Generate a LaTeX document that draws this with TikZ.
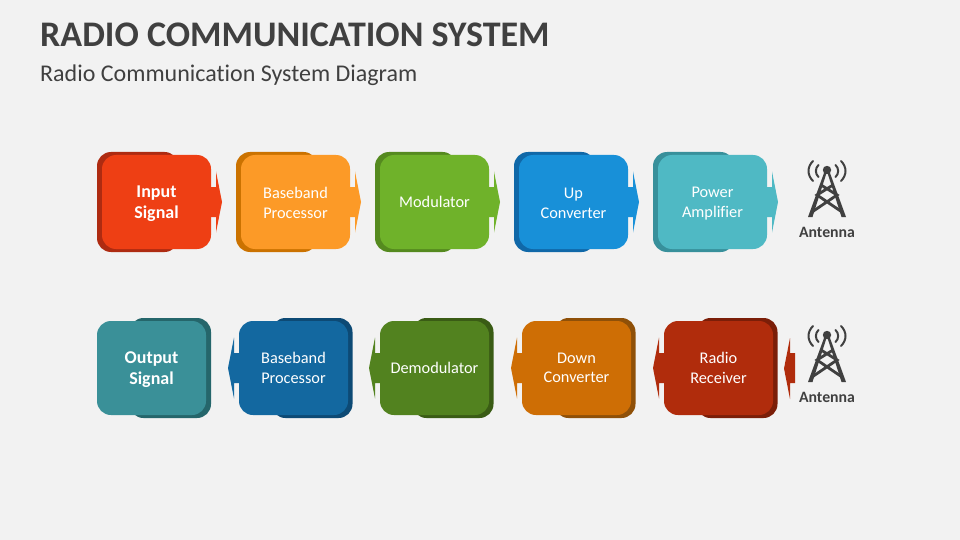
\documentclass[tikz,border=0pt]{standalone}
\usepackage{fontspec}
\setmainfont[Ligatures=CommonOff]{Carlito}
\definecolor{bgc}{HTML}{F2F2F2}
\definecolor{ink}{HTML}{404040}
\definecolor{redA}{HTML}{EE3F14}\definecolor{redB}{HTML}{AE2B11}
\definecolor{orgA}{HTML}{FC9A27}\definecolor{orgB}{HTML}{CB7200}
\definecolor{grnA}{HTML}{6FB22A}\definecolor{grnB}{HTML}{558A1F}
\definecolor{bluA}{HTML}{1890D8}\definecolor{bluB}{HTML}{1068A8}
\definecolor{teaA}{HTML}{4FB9C4}\definecolor{teaB}{HTML}{38909B}
\definecolor{outA}{HTML}{3A9098}\definecolor{outB}{HTML}{25666B}
\definecolor{bbpA}{HTML}{1368A0}\definecolor{bbpB}{HTML}{0D4A75}
\definecolor{demA}{HTML}{52821F}\definecolor{demB}{HTML}{3A5C15}
\definecolor{dwnA}{HTML}{CE6E05}\definecolor{dwnB}{HTML}{8F5008}
\definecolor{rcvA}{HTML}{B02C0C}\definecolor{rcvB}{HTML}{7B1E08}
\newcommand{\lowerplain}{\rule{0pt}{13.5pt}}
\newcommand{\lowerstrong}{\rule{0pt}{14.5pt}}
\tikzset{
  x=1pt,y=-1pt,
  blockbox/.style={rounded corners=14pt,minimum width=109pt,minimum height=94pt,inner sep=0pt,align=center,text=white,font=\fontsize{16.3}{19.5}\selectfont},
  strong/.style={font=\fontsize{18}{21}\selectfont\bfseries},
  plain/.style={},
  antlabel/.style={font=\fontsize{15.8}{17}\selectfont\bfseries,text=ink,inner sep=0pt},
  antbrace/.style={draw=ink,line width=2.8pt},
  antwave/.style={draw=ink,line width=2pt,line cap=round},
}
% name, cx, cy, light, dark, text, style
\newcommand{\blockright}[7]{%
  \fill[#5,rounded corners=14pt] (#2-59.5,#3-50) rectangle (#2+22,#3+50);
  \fill[#4] ([shift={(-2,-15)}]#2+54.5,#3) -- ++(7,0) -- ++(0,-15.5) -- ++(6,30.5) -- ++(-6,30.5) -- ++(0,-15.5) -- ++(-7,0) -- cycle;
  \node[blockbox,fill=#4,#7] (#1) at (#2,#3) {#6};
}
\newcommand{\blockleft}[7]{%
  \fill[#5,rounded corners=14pt] (#2-22,#3-50) rectangle (#2+59,#3+50);
  \fill[#4] ([shift={(2,-15)}]#2-54.5,#3) -- ++(-7,0) -- ++(0,-15.5) -- ++(-6,30.5) -- ++(6,30.5) -- ++(0,-15.5) -- ++(7,0) -- cycle;
  \node[blockbox,fill=#4,#7] (#1) at (#2,#3) {#6};
}
\newcommand{\antennaicon}[3]{%
  \begin{scope}[shift={(#2,#3)}]
    \fill[ink] (0,-47) circle[radius=4.2pt];
    \fill[ink] (-19,0) -- (-14.5,0) -- (-0.5,-44) -- (-3,-44) -- cycle;
    \fill[ink] (19,0) -- (14.5,0) -- (0.5,-44) -- (3,-44) -- cycle;
    \draw[antbrace] (-15,-5) -- (10,-22) -- (-6,-32) (15,-5) -- (-10,-22) -- (6,-32);
    \draw[antwave] (-14,-56) .. controls (-20,-50) and (-20,-42) .. (-14,-36);
    \draw[antwave] (14,-56) .. controls (20,-50) and (20,-42) .. (14,-36);
    \draw[antwave] (-8.5,-52) .. controls (-12,-49) and (-12,-43) .. (-8.5,-40);
    \draw[antwave] (8.5,-52) .. controls (12,-49) and (12,-43) .. (8.5,-40);
    \node[antlabel] (#1) at (0,15.5) {Antenna};
  \end{scope}
}
\begin{document}
\begin{tikzpicture}
\useasboundingbox (0,0) rectangle (960,540);
\fill[bgc] (0,0) rectangle (960,540);
\node[anchor=west,inner sep=0pt,text=ink,font=\fontsize{36}{40}\selectfont\bfseries] (title) at (40,35) {RADIO COMMUNICATION SYSTEM};
\node[anchor=west,inner sep=0pt,text=ink,font=\fontsize{24}{26}\selectfont] (subtitle) at (40,75) {Radio Communication System Diagram};

\blockright{a1}{156.5}{202}{redA}{redB}{\lowerstrong Input\\Signal}{strong}
\blockright{a2}{295.5}{202}{orgA}{orgB}{\lowerplain Baseband\\Processor}{plain}
\blockright{a3}{434.5}{202}{grnA}{grnB}{Modulator}{plain}
\blockright{a4}{573.5}{202}{bluA}{bluB}{\lowerplain Up\\Converter}{plain}
\blockright{a5}{712.5}{202}{teaA}{teaB}{\lowerplain Power\\Amplifier}{plain}
\antennaicon{ant1}{827}{217}

\blockleft{b5}{718.5}{368}{rcvA}{rcvB}{Radio\\Receiver}{plain}
\blockleft{b4}{576.5}{368}{dwnA}{dwnB}{Down\\Converter}{plain}
\blockleft{b3}{434.5}{368}{demA}{demB}{Demodulator}{plain}
\blockleft{b2}{293.5}{368}{bbpA}{bbpB}{Baseband\\Processor}{plain}
% output signal: no arrow of its own
\fill[outB,rounded corners=14pt] (129.5,318) rectangle (211,418);
\node[blockbox,fill=outA,strong] (b1) at (151.5,368) {\lowerstrong Output\\Signal};
% arrow from the antenna
\fill[rcvA] (795,353) -- (790,353) -- (790,338) -- (784,368.5) -- (790,399) -- (790,383) -- (795,383) -- cycle;
\antennaicon{ant2}{827}{382}
\end{tikzpicture}
\end{document}
